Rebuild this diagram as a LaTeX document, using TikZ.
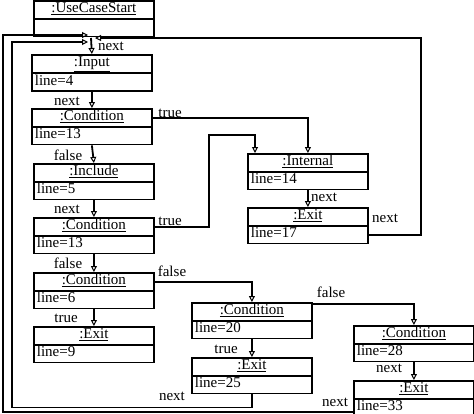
\documentclass[tikz,border=0pt]{standalone}
\usepackage{fontspec}
\setmainfont{Liberation Serif}
\usetikzlibrary{shapes.multipart,arrows.meta}
\tikzset{obj/.style={draw, line width=1.8pt, rectangle split, rectangle split parts=2, rectangle split part align={center,left}, minimum width=120pt, inner ysep=0.5pt, inner xsep=3pt, anchor=north west, font=\fontsize{15}{15}\selectfont}}
\tikzset{flow/.style={line width=1.8pt, -{Triangle[open,length=6pt,width=6pt,line width=1pt]}}}
\tikzset{lbl/.style={font=\fontsize{15}{15}\selectfont, inner sep=0pt}}
\newcommand\objtext[2]{\underline{#1}\strut\nodepart{two}#2\strut}

\begin{document}
\begin{tikzpicture}[x=1pt, y=-1pt]
\useasboundingbox (0,0) rectangle (474,413);
% objects
\node[obj] (start) at (33,0) {\objtext{:UseCaseStart}{}};
\node[obj] (input) at (31,54) {\objtext{:Input}{line=4}};
\node[obj] (condA) at (31,108) {\objtext{:Condition}{line=13}};
\node[obj] (incl) at (33,163) {\objtext{:Include}{line=5}};
\node[obj] (condB) at (33,217) {\objtext{:Condition}{line=13}};
\node[obj] (condC) at (33,272) {\objtext{:Condition}{line=6}};
\node[obj] (exitA) at (33,326) {\objtext{:Exit}{line=9}};
\node[obj] (internal) at (247,153) {\objtext{:Internal}{line=14}};
\node[obj] (exitB) at (247,207) {\objtext{:Exit}{line=17}};
\node[obj] (condD) at (191,302) {\objtext{:Condition}{line=20}};
\node[obj] (exitC) at (191,357) {\objtext{:Exit}{line=25}};
\node[obj] (condE) at (353,325) {\objtext{:Condition}{line=28}};
\node[obj] (exitD) at (353,380) {\objtext{:Exit}{line=33}};
% turning points
\coordinate (merge) at (91,38);
\coordinate (rloop) at (421,38);
\coordinate (iloop) at (12,42);
\coordinate (oloop) at (3,35);
\coordinate (jog) at (209,135);
% connectors
\draw[flow] (merge) -- (input.north);
\draw[flow] (input.south) -- (condA.north);
\draw[flow] (condA.south) -- (incl.north);
\draw[flow] (incl.south) -- (condB.north);
\draw[flow] (condB.south) -- (condC.north);
\draw[flow] (condC.south) -- (exitA.north);
\draw[flow] (condA.one east) -| (internal.north);
\draw[flow] (condB.one east) -| (jog) -| ([xshift=8pt]internal.north west);
\draw[flow] (internal.south) -- (exitB.north);
\draw[flow] (exitB.two east) -| (rloop) -- ([xshift=4pt]merge);
\draw[flow] (condC.one east) -| (condD.north);
\draw[flow] ([yshift=-2pt]condD.north east) -| (condE.north);
\draw[flow] (condD.south) -- (exitC.north);
\draw[flow] (condE.south) -- (exitD.north);
\draw[flow] (exitC.south) -- ++(0,13) -| (iloop) -- ([xshift=-3pt,yshift=-4pt]merge);
\draw[flow] ([yshift=-4pt]exitD.two west) -| (oloop) -- ([xshift=-3pt,yshift=3pt]merge);
% labels
\node[lbl] (n1) at (111,46) {next};
\node[lbl] (n2) at (67,101) {next};
\node[lbl] (f1) at (68,155) {false};
\node[lbl] (n3) at (67,209) {next};
\node[lbl] (f2) at (68,263) {false};
\node[lbl] (t1) at (66,318) {true};
\node[lbl] (t2) at (170,113) {true};
\node[lbl] (t3) at (170,221) {true};
\node[lbl] (f3) at (172,271) {false};
\node[lbl] (f4) at (331,292) {false};
\node[lbl] (t4) at (226,349) {true};
\node[lbl] (n4) at (324,197) {next};
\node[lbl] (n5) at (385,218) {next};
\node[lbl] (n6) at (389,368) {next};
\node[lbl] (n7) at (172,396) {next};
\node[lbl] (n8) at (335,402) {next};
\end{tikzpicture}
\end{document}
